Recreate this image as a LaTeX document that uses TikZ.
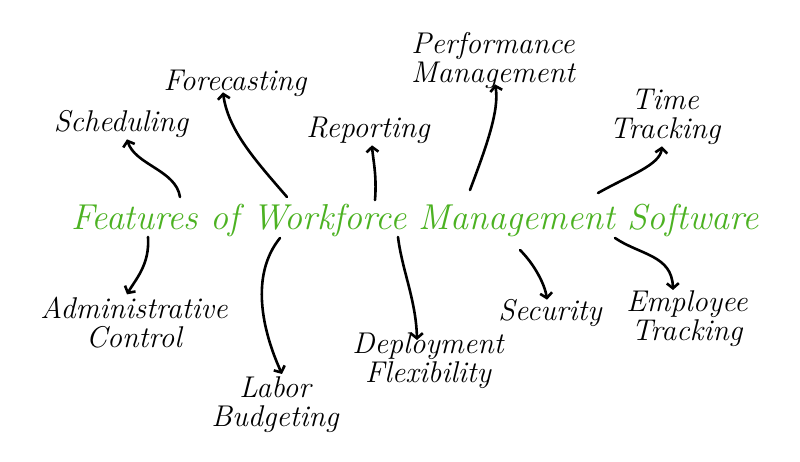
\documentclass[tikz,border=0pt]{standalone}
\usepackage{tikz}
\usetikzlibrary{arrows.meta}

\definecolor{titlegreen}{RGB}{76,178,34}

\begin{document}
\begin{tikzpicture}[x=1pt,y=-1pt,
    label/.style={anchor=base,align=center,inner sep=2pt,
      font=\fontsize{30}{29}\selectfont\itshape},
    feat/.style={line width=2.6pt,line cap=round,
      -{Straight Barb[length=5pt,width=12pt,line width=2.6pt]}}]
  \fill[white] (0,0) rectangle (800,461);
  \useasboundingbox (0,0) rectangle (800,461);

  \node[anchor=base,text=titlegreen,inner sep=0pt,
    font=\fontsize{36}{40}\selectfont\itshape] (title) at (415,229)
    {Features of Workforce Management Software};

  % labels, placed at the baseline of their last line
  \node[label] (sched) at (121,131) {Scheduling};
  \node[label] (fore) at (235,90) {Forecasting};
  \node[label] (report) at (368,137) {Reporting};
  \node[label] (perf) at (493,82) {Performance\\Management};
  \node[label] (timetr) at (665,138) {Time\\Tracking};
  \node[label] (admin) at (134,347) {Administrative\\Control};
  \node[label] (labor) at (275,426) {Labor\\Budgeting};
  \node[label] (deploy) at (428,382) {Deployment\\Flexibility};
  \node[label] (secur) at (550,320) {Security};
  \node[label] (emptr) at (687,340) {Employee\\Tracking};

  % where the arrows leave the title
  \coordinate (t1) at (180,197);
  \coordinate (t2) at (287,197);
  \coordinate (t3) at (375,200);
  \coordinate (t4) at (470,190);
  \coordinate (t5) at (598,193);
  \coordinate (b1) at (148,237);
  \coordinate (b2) at (280,238);
  \coordinate (b3) at (398,237);
  \coordinate (b4) at (520,250);
  \coordinate (b5) at (615,238);

  \draw[feat] (t1) .. controls (176,170) and (135,165) .. ([xshift=6pt]sched.south);
  \draw[feat] (t2) .. controls (255,160) and (228,130) .. ([shift={(-12,-6)}]fore.south);
  \draw[feat] (t3) .. controls (377,175) and (373,160) .. ([xshift=4pt]report.south);
  \draw[feat] (t4) .. controls (485,150) and (500,110) .. ([shift={(2,-6)}]perf.south);
  \draw[feat] (t5) .. controls (630,175) and (660,165) .. ([xshift=-3pt]timetr.south);
  \draw[feat] (b1) .. controls (150,265) and (135,280) .. ([xshift=-7pt]admin.north);
  \draw[feat] (b2) .. controls (250,275) and (262,330) .. ([xshift=7pt]labor.north);
  \draw[feat] (b3) .. controls (402,270) and (416,300) .. ([shift={(-11,10)}]deploy.north);
  \draw[feat] (b4) .. controls (535,265) and (545,285) .. ([shift={(-3,3)}]secur.north);
  \draw[feat] (b5) .. controls (640,255) and (672,255) .. ([shift={(-14,2)}]emptr.north);
\end{tikzpicture}
\end{document}
